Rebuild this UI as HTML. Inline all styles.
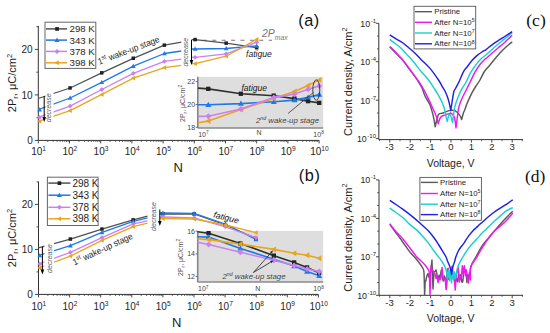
<!DOCTYPE html>
<html><head><meta charset="utf-8"><style>
html,body{margin:0;padding:0;background:#fff;}
body{width:550px;height:333px;overflow:hidden;font-family:"Liberation Sans", sans-serif;}
svg{display:block;}
</style></head><body>
<svg xmlns="http://www.w3.org/2000/svg" width="550" height="333" viewBox="0 0 550 333" font-family='"Liberation Sans", sans-serif'>
<rect width="550" height="333" fill="#fff"/>
<line x1="38.3" y1="26.0" x2="38.3" y2="140.4" stroke="#333333" stroke-width="1" />
<line x1="34.8" y1="140.4" x2="38.3" y2="140.4" stroke="#333333" stroke-width="0.9" />
<text x="32.7" y="144.0" font-size="10" fill="#262626" text-anchor="end" >0</text>
<line x1="34.8" y1="94.9" x2="38.3" y2="94.9" stroke="#333333" stroke-width="0.9" />
<text x="32.7" y="98.5" font-size="10" fill="#262626" text-anchor="end" >10</text>
<line x1="34.8" y1="49.4" x2="38.3" y2="49.4" stroke="#333333" stroke-width="0.9" />
<text x="32.7" y="53.0" font-size="10" fill="#262626" text-anchor="end" >20</text>
<line x1="36.3" y1="117.7" x2="38.3" y2="117.7" stroke="#333333" stroke-width="0.8" />
<line x1="36.3" y1="72.2" x2="38.3" y2="72.2" stroke="#333333" stroke-width="0.8" />
<line x1="36.3" y1="26.7" x2="38.3" y2="26.7" stroke="#333333" stroke-width="0.8" />
<line x1="38.3" y1="140.4" x2="319.1" y2="140.4" stroke="#333333" stroke-width="1" />
<line x1="38.3" y1="140.4" x2="38.3" y2="143.4" stroke="#333333" stroke-width="0.9" />
<text x="38.6" y="154.8" font-size="10" fill="#262626" text-anchor="middle">10<tspan font-size="6.6" dy="-4">1</tspan></text>
<line x1="47.7" y1="140.4" x2="47.7" y2="142.0" stroke="#333333" stroke-width="0.7" />
<line x1="53.2" y1="140.4" x2="53.2" y2="142.0" stroke="#333333" stroke-width="0.7" />
<line x1="57.1" y1="140.4" x2="57.1" y2="142.0" stroke="#333333" stroke-width="0.7" />
<line x1="60.1" y1="140.4" x2="60.1" y2="142.0" stroke="#333333" stroke-width="0.7" />
<line x1="62.6" y1="140.4" x2="62.6" y2="142.0" stroke="#333333" stroke-width="0.7" />
<line x1="64.7" y1="140.4" x2="64.7" y2="142.0" stroke="#333333" stroke-width="0.7" />
<line x1="66.5" y1="140.4" x2="66.5" y2="142.0" stroke="#333333" stroke-width="0.7" />
<line x1="68.1" y1="140.4" x2="68.1" y2="142.0" stroke="#333333" stroke-width="0.7" />
<line x1="69.5" y1="140.4" x2="69.5" y2="143.4" stroke="#333333" stroke-width="0.9" />
<text x="69.8" y="154.8" font-size="10" fill="#262626" text-anchor="middle">10<tspan font-size="6.6" dy="-4">2</tspan></text>
<line x1="78.9" y1="140.4" x2="78.9" y2="142.0" stroke="#333333" stroke-width="0.7" />
<line x1="84.4" y1="140.4" x2="84.4" y2="142.0" stroke="#333333" stroke-width="0.7" />
<line x1="88.3" y1="140.4" x2="88.3" y2="142.0" stroke="#333333" stroke-width="0.7" />
<line x1="91.3" y1="140.4" x2="91.3" y2="142.0" stroke="#333333" stroke-width="0.7" />
<line x1="93.8" y1="140.4" x2="93.8" y2="142.0" stroke="#333333" stroke-width="0.7" />
<line x1="95.9" y1="140.4" x2="95.9" y2="142.0" stroke="#333333" stroke-width="0.7" />
<line x1="97.7" y1="140.4" x2="97.7" y2="142.0" stroke="#333333" stroke-width="0.7" />
<line x1="99.3" y1="140.4" x2="99.3" y2="142.0" stroke="#333333" stroke-width="0.7" />
<line x1="100.7" y1="140.4" x2="100.7" y2="143.4" stroke="#333333" stroke-width="0.9" />
<text x="101.0" y="154.8" font-size="10" fill="#262626" text-anchor="middle">10<tspan font-size="6.6" dy="-4">3</tspan></text>
<line x1="110.1" y1="140.4" x2="110.1" y2="142.0" stroke="#333333" stroke-width="0.7" />
<line x1="115.6" y1="140.4" x2="115.6" y2="142.0" stroke="#333333" stroke-width="0.7" />
<line x1="119.5" y1="140.4" x2="119.5" y2="142.0" stroke="#333333" stroke-width="0.7" />
<line x1="122.5" y1="140.4" x2="122.5" y2="142.0" stroke="#333333" stroke-width="0.7" />
<line x1="125.0" y1="140.4" x2="125.0" y2="142.0" stroke="#333333" stroke-width="0.7" />
<line x1="127.1" y1="140.4" x2="127.1" y2="142.0" stroke="#333333" stroke-width="0.7" />
<line x1="128.9" y1="140.4" x2="128.9" y2="142.0" stroke="#333333" stroke-width="0.7" />
<line x1="130.5" y1="140.4" x2="130.5" y2="142.0" stroke="#333333" stroke-width="0.7" />
<line x1="131.9" y1="140.4" x2="131.9" y2="143.4" stroke="#333333" stroke-width="0.9" />
<text x="132.2" y="154.8" font-size="10" fill="#262626" text-anchor="middle">10<tspan font-size="6.6" dy="-4">4</tspan></text>
<line x1="141.3" y1="140.4" x2="141.3" y2="142.0" stroke="#333333" stroke-width="0.7" />
<line x1="146.8" y1="140.4" x2="146.8" y2="142.0" stroke="#333333" stroke-width="0.7" />
<line x1="150.7" y1="140.4" x2="150.7" y2="142.0" stroke="#333333" stroke-width="0.7" />
<line x1="153.7" y1="140.4" x2="153.7" y2="142.0" stroke="#333333" stroke-width="0.7" />
<line x1="156.2" y1="140.4" x2="156.2" y2="142.0" stroke="#333333" stroke-width="0.7" />
<line x1="158.3" y1="140.4" x2="158.3" y2="142.0" stroke="#333333" stroke-width="0.7" />
<line x1="160.1" y1="140.4" x2="160.1" y2="142.0" stroke="#333333" stroke-width="0.7" />
<line x1="161.7" y1="140.4" x2="161.7" y2="142.0" stroke="#333333" stroke-width="0.7" />
<line x1="163.1" y1="140.4" x2="163.1" y2="143.4" stroke="#333333" stroke-width="0.9" />
<text x="163.4" y="154.8" font-size="10" fill="#262626" text-anchor="middle">10<tspan font-size="6.6" dy="-4">5</tspan></text>
<line x1="172.5" y1="140.4" x2="172.5" y2="142.0" stroke="#333333" stroke-width="0.7" />
<line x1="178.0" y1="140.4" x2="178.0" y2="142.0" stroke="#333333" stroke-width="0.7" />
<line x1="181.9" y1="140.4" x2="181.9" y2="142.0" stroke="#333333" stroke-width="0.7" />
<line x1="184.9" y1="140.4" x2="184.9" y2="142.0" stroke="#333333" stroke-width="0.7" />
<line x1="187.4" y1="140.4" x2="187.4" y2="142.0" stroke="#333333" stroke-width="0.7" />
<line x1="189.5" y1="140.4" x2="189.5" y2="142.0" stroke="#333333" stroke-width="0.7" />
<line x1="191.3" y1="140.4" x2="191.3" y2="142.0" stroke="#333333" stroke-width="0.7" />
<line x1="192.9" y1="140.4" x2="192.9" y2="142.0" stroke="#333333" stroke-width="0.7" />
<line x1="194.3" y1="140.4" x2="194.3" y2="143.4" stroke="#333333" stroke-width="0.9" />
<text x="194.6" y="154.8" font-size="10" fill="#262626" text-anchor="middle">10<tspan font-size="6.6" dy="-4">6</tspan></text>
<line x1="203.7" y1="140.4" x2="203.7" y2="142.0" stroke="#333333" stroke-width="0.7" />
<line x1="209.2" y1="140.4" x2="209.2" y2="142.0" stroke="#333333" stroke-width="0.7" />
<line x1="213.1" y1="140.4" x2="213.1" y2="142.0" stroke="#333333" stroke-width="0.7" />
<line x1="216.1" y1="140.4" x2="216.1" y2="142.0" stroke="#333333" stroke-width="0.7" />
<line x1="218.6" y1="140.4" x2="218.6" y2="142.0" stroke="#333333" stroke-width="0.7" />
<line x1="220.7" y1="140.4" x2="220.7" y2="142.0" stroke="#333333" stroke-width="0.7" />
<line x1="222.5" y1="140.4" x2="222.5" y2="142.0" stroke="#333333" stroke-width="0.7" />
<line x1="224.1" y1="140.4" x2="224.1" y2="142.0" stroke="#333333" stroke-width="0.7" />
<line x1="225.5" y1="140.4" x2="225.5" y2="143.4" stroke="#333333" stroke-width="0.9" />
<text x="225.8" y="154.8" font-size="10" fill="#262626" text-anchor="middle">10<tspan font-size="6.6" dy="-4">7</tspan></text>
<line x1="234.9" y1="140.4" x2="234.9" y2="142.0" stroke="#333333" stroke-width="0.7" />
<line x1="240.4" y1="140.4" x2="240.4" y2="142.0" stroke="#333333" stroke-width="0.7" />
<line x1="244.3" y1="140.4" x2="244.3" y2="142.0" stroke="#333333" stroke-width="0.7" />
<line x1="247.3" y1="140.4" x2="247.3" y2="142.0" stroke="#333333" stroke-width="0.7" />
<line x1="249.8" y1="140.4" x2="249.8" y2="142.0" stroke="#333333" stroke-width="0.7" />
<line x1="251.9" y1="140.4" x2="251.9" y2="142.0" stroke="#333333" stroke-width="0.7" />
<line x1="253.7" y1="140.4" x2="253.7" y2="142.0" stroke="#333333" stroke-width="0.7" />
<line x1="255.3" y1="140.4" x2="255.3" y2="142.0" stroke="#333333" stroke-width="0.7" />
<line x1="256.7" y1="140.4" x2="256.7" y2="143.4" stroke="#333333" stroke-width="0.9" />
<text x="257.0" y="154.8" font-size="10" fill="#262626" text-anchor="middle">10<tspan font-size="6.6" dy="-4">8</tspan></text>
<line x1="266.1" y1="140.4" x2="266.1" y2="142.0" stroke="#333333" stroke-width="0.7" />
<line x1="271.6" y1="140.4" x2="271.6" y2="142.0" stroke="#333333" stroke-width="0.7" />
<line x1="275.5" y1="140.4" x2="275.5" y2="142.0" stroke="#333333" stroke-width="0.7" />
<line x1="278.5" y1="140.4" x2="278.5" y2="142.0" stroke="#333333" stroke-width="0.7" />
<line x1="281.0" y1="140.4" x2="281.0" y2="142.0" stroke="#333333" stroke-width="0.7" />
<line x1="283.1" y1="140.4" x2="283.1" y2="142.0" stroke="#333333" stroke-width="0.7" />
<line x1="284.9" y1="140.4" x2="284.9" y2="142.0" stroke="#333333" stroke-width="0.7" />
<line x1="286.5" y1="140.4" x2="286.5" y2="142.0" stroke="#333333" stroke-width="0.7" />
<line x1="287.9" y1="140.4" x2="287.9" y2="143.4" stroke="#333333" stroke-width="0.9" />
<text x="288.2" y="154.8" font-size="10" fill="#262626" text-anchor="middle">10<tspan font-size="6.6" dy="-4">9</tspan></text>
<line x1="297.3" y1="140.4" x2="297.3" y2="142.0" stroke="#333333" stroke-width="0.7" />
<line x1="302.8" y1="140.4" x2="302.8" y2="142.0" stroke="#333333" stroke-width="0.7" />
<line x1="306.7" y1="140.4" x2="306.7" y2="142.0" stroke="#333333" stroke-width="0.7" />
<line x1="309.7" y1="140.4" x2="309.7" y2="142.0" stroke="#333333" stroke-width="0.7" />
<line x1="312.2" y1="140.4" x2="312.2" y2="142.0" stroke="#333333" stroke-width="0.7" />
<line x1="314.3" y1="140.4" x2="314.3" y2="142.0" stroke="#333333" stroke-width="0.7" />
<line x1="316.1" y1="140.4" x2="316.1" y2="142.0" stroke="#333333" stroke-width="0.7" />
<line x1="317.7" y1="140.4" x2="317.7" y2="142.0" stroke="#333333" stroke-width="0.7" />
<line x1="319.1" y1="140.4" x2="319.1" y2="143.4" stroke="#333333" stroke-width="0.9" />
<text x="319.4" y="154.8" font-size="10" fill="#262626" text-anchor="middle">10<tspan font-size="6.6" dy="-4">10</tspan></text>
<text x="178.2" y="172.0" font-size="13" fill="#1c1c1c" text-anchor="middle" >N</text>
<text transform="translate(15.7,83) rotate(-90)" font-size="11" fill="#1c1c1c" text-anchor="middle">2P<tspan font-size="7.5" dy="2.5">r</tspan><tspan dy="-2.5">, μC/cm</tspan><tspan font-size="7.5" dy="-4">2</tspan></text>
<text x="309.0" y="25.5" font-size="16.3" fill="#111" text-anchor="middle" letter-spacing="0.6">(a)</text>
<line x1="193.5" y1="40.2" x2="272.0" y2="40.2" stroke="#777" stroke-width="1.1" stroke-dasharray="4,5.4"/>
<polyline points="38.3,98.5 70.1,88.0 101.8,72.9 133.3,58.3 164.4,45.2 181.5,42.1" fill="none" stroke="#525252" stroke-width="1.3" stroke-linejoin="round" />
<polyline points="191.5,39.6 195.1,39.6 226.2,43.2 256.7,47.8" fill="none" stroke="#525252" stroke-width="1.3" stroke-linejoin="round" />
<polyline points="38.3,109.7 70.1,98.0 101.8,82.3 133.3,66.1 164.4,53.5 181.5,51.0" fill="none" stroke="#1f78e8" stroke-width="1.3" stroke-linejoin="round" />
<polyline points="191.5,49.0 195.1,49.0 226.2,48.5 256.7,45.9" fill="none" stroke="#1f78e8" stroke-width="1.3" stroke-linejoin="round" />
<polyline points="38.3,117.3 70.1,106.1 101.8,89.5 133.3,73.3 164.4,61.3 181.5,59.1" fill="none" stroke="#cc80f0" stroke-width="1.3" stroke-linejoin="round" />
<polyline points="191.5,57.3 195.1,57.3 226.2,53.8 256.7,42.2" fill="none" stroke="#cc80f0" stroke-width="1.3" stroke-linejoin="round" />
<polyline points="38.3,121.4 70.1,110.6 101.8,94.4 133.3,78.1 164.4,67.6 181.5,65.4" fill="none" stroke="#e9a51c" stroke-width="1.3" stroke-linejoin="round" />
<polyline points="191.5,63.7 195.1,63.7 226.2,56.2 256.7,39.3" fill="none" stroke="#e9a51c" stroke-width="1.3" stroke-linejoin="round" />
<rect x="68.3" y="86.2" width="3.5" height="3.5" fill="#222"/>
<rect x="100.0" y="71.1" width="3.5" height="3.5" fill="#222"/>
<rect x="131.5" y="56.5" width="3.5" height="3.5" fill="#222"/>
<rect x="162.6" y="43.4" width="3.5" height="3.5" fill="#222"/>
<rect x="193.3" y="37.8" width="3.5" height="3.5" fill="#222"/>
<rect x="224.4" y="41.4" width="3.5" height="3.5" fill="#222"/>
<rect x="254.9" y="46.0" width="3.5" height="3.5" fill="#222"/>
<polygon points="39.6,107.3 37.2,111.5 42.0,111.5" fill="#1f78e8"/>
<polygon points="70.1,95.6 67.7,99.8 72.5,99.8" fill="#1f78e8"/>
<polygon points="101.8,79.9 99.4,84.1 104.2,84.1" fill="#1f78e8"/>
<polygon points="133.3,63.7 130.9,67.9 135.7,67.9" fill="#1f78e8"/>
<polygon points="164.4,51.1 162.0,55.3 166.8,55.3" fill="#1f78e8"/>
<polygon points="195.1,46.6 192.7,50.8 197.5,50.8" fill="#1f78e8"/>
<polygon points="226.2,46.1 223.8,50.3 228.6,50.3" fill="#1f78e8"/>
<polygon points="256.7,43.5 254.3,47.7 259.1,47.7" fill="#1f78e8"/>
<polygon points="39.6,114.9 42.0,117.3 39.6,119.7 37.2,117.3" fill="#cc80f0"/>
<polygon points="70.1,103.7 72.5,106.1 70.1,108.5 67.7,106.1" fill="#cc80f0"/>
<polygon points="101.8,87.1 104.2,89.5 101.8,91.9 99.4,89.5" fill="#cc80f0"/>
<polygon points="133.3,70.9 135.7,73.3 133.3,75.7 130.9,73.3" fill="#cc80f0"/>
<polygon points="164.4,58.9 166.8,61.3 164.4,63.7 162.0,61.3" fill="#cc80f0"/>
<polygon points="195.1,54.9 197.5,57.3 195.1,59.7 192.7,57.3" fill="#cc80f0"/>
<polygon points="226.2,51.4 228.6,53.8 226.2,56.2 223.8,53.8" fill="#cc80f0"/>
<polygon points="256.7,39.8 259.1,42.2 256.7,44.6 254.3,42.2" fill="#cc80f0"/>
<polygon points="37.2,121.4 41.4,119.0 41.4,123.8" fill="#e9a51c"/>
<polygon points="67.7,110.6 71.9,108.2 71.9,113.0" fill="#e9a51c"/>
<polygon points="99.4,94.4 103.6,92.0 103.6,96.8" fill="#e9a51c"/>
<polygon points="130.9,78.1 135.1,75.7 135.1,80.5" fill="#e9a51c"/>
<polygon points="162.0,67.6 166.2,65.2 166.2,70.0" fill="#e9a51c"/>
<polygon points="192.7,63.7 196.9,61.3 196.9,66.1" fill="#e9a51c"/>
<polygon points="223.8,56.2 228.0,53.8 228.0,58.6" fill="#e9a51c"/>
<polygon points="254.3,39.3 258.5,36.9 258.5,41.7" fill="#e9a51c"/>
<rect x="45.5" y="92" width="8" height="31" fill="#fff"/>
<rect x="181.5" y="36" width="8" height="31" fill="#fff"/>
<text transform="translate(50.8,107.8) rotate(-90)" font-size="7" font-style="italic" fill="#506070" text-anchor="middle">decrease</text>
<text transform="translate(187.9,52.2) rotate(-90)" font-size="7" font-style="italic" fill="#506070" text-anchor="middle">decrease</text>
<line x1="44.2" y1="96.2" x2="44.2" y2="118.0" stroke="#000" stroke-width="1.0" />
<polygon points="42.4,117.0 46.0,117.0 44.2,122.0" fill="#000"/>
<line x1="191.5" y1="40.0" x2="191.5" y2="61.0" stroke="#000" stroke-width="1.0" />
<polygon points="189.7,60.0 193.3,60.0 191.5,65.0" fill="#000"/>
<text transform="translate(99.3,64.8) rotate(-20.8) scale(0.92,1)" font-size="9" fill="#262626">1<tspan font-size="6.2" dy="-3.6">st</tspan><tspan dy="3.6"> wake-up stage</tspan></text>
<text x="262" y="37" font-size="10.5" font-style="italic" fill="#777">2P<tspan font-size="6.8" dy="2.5">max</tspan></text>
<text x="246" y="56.5" font-size="8.6" font-style="italic" fill="#1a1a1a">fatigue</text>
<rect x="45.0" y="22.2" width="50.8" height="46.2" fill="#fff" stroke="#666" stroke-width="1"/>
<line x1="46.0" y1="28.9" x2="67.0" y2="28.9" stroke="#525252" stroke-width="1.5" />
<rect x="55.2" y="27.1" width="3.7" height="3.7" fill="#222"/>
<text x="69.5" y="32.4" font-size="9.7" fill="#262626" text-anchor="start" >298 K</text>
<line x1="46.0" y1="40.1" x2="67.0" y2="40.1" stroke="#1f78e8" stroke-width="1.5" />
<polygon points="57.0,37.6 54.5,41.9 59.5,41.9" fill="#1f78e8"/>
<text x="69.5" y="43.6" font-size="9.7" fill="#262626" text-anchor="start" >343 K</text>
<line x1="46.0" y1="51.4" x2="67.0" y2="51.4" stroke="#cc80f0" stroke-width="1.5" />
<polygon points="57.0,48.9 59.5,51.4 57.0,53.9 54.5,51.4" fill="#cc80f0"/>
<text x="69.5" y="54.9" font-size="9.7" fill="#262626" text-anchor="start" >378 K</text>
<line x1="46.0" y1="62.8" x2="67.0" y2="62.8" stroke="#e9a51c" stroke-width="1.5" />
<polygon points="54.5,62.8 58.8,60.3 58.8,65.3" fill="#e9a51c"/>
<text x="69.5" y="66.3" font-size="9.7" fill="#262626" text-anchor="start" >398 K</text>
<rect x="197.6" y="76.8" width="125.6" height="51.2" fill="#dedede"/>
<line x1="197.8" y1="76.8" x2="197.8" y2="128.0" stroke="#858585" stroke-width="1.6" />
<line x1="197.6" y1="128.0" x2="323.2" y2="128.0" stroke="#8a8a8a" stroke-width="1.4" />
<line x1="195.6" y1="81.6" x2="197.6" y2="81.6" stroke="#555" stroke-width="0.8" />
<text x="195.1" y="84.1" font-size="7" fill="#444" text-anchor="end" >22</text>
<line x1="195.6" y1="104.5" x2="197.6" y2="104.5" stroke="#555" stroke-width="0.8" />
<text x="195.1" y="107.0" font-size="7" fill="#444" text-anchor="end" >20</text>
<line x1="195.6" y1="127.3" x2="197.6" y2="127.3" stroke="#555" stroke-width="0.8" />
<text x="195.1" y="129.8" font-size="7" fill="#444" text-anchor="end" >18</text>
<polyline points="198.0,88.1 208.3,88.9 240.9,93.8 273.8,95.7 294.5,98.6 308.1,101.2 319.3,102.9" fill="none" stroke="#303030" stroke-width="1.6" stroke-linejoin="round" />
<polyline points="198.0,104.7 208.3,104.7 240.9,103.6 273.8,101.7 294.5,100.1 308.1,97.4 319.3,94.6" fill="none" stroke="#1f78e8" stroke-width="1.6" stroke-linejoin="round" />
<polyline points="198.0,122.7 208.3,121.1 240.9,109.6 273.8,98.4 294.5,91.4 308.1,85.4 319.3,79.9" fill="none" stroke="#e9a51c" stroke-width="1.6" stroke-linejoin="round" />
<polyline points="198.0,116.4 208.3,116.2 240.9,109.0 273.8,97.4 294.5,94.1 308.1,89.2 319.3,85.9" fill="none" stroke="#cc80f0" stroke-width="1.6" stroke-linejoin="round" />
<rect x="206.1" y="86.7" width="4.3" height="4.3" fill="#222"/>
<rect x="238.7" y="91.6" width="4.3" height="4.3" fill="#222"/>
<rect x="271.6" y="93.5" width="4.3" height="4.3" fill="#222"/>
<rect x="292.3" y="96.4" width="4.3" height="4.3" fill="#222"/>
<rect x="305.9" y="99.0" width="4.3" height="4.3" fill="#222"/>
<rect x="317.1" y="100.7" width="4.3" height="4.3" fill="#222"/>
<polygon points="208.3,101.7 205.3,106.9 211.3,106.9" fill="#1f78e8"/>
<polygon points="240.9,100.6 237.9,105.8 243.9,105.8" fill="#1f78e8"/>
<polygon points="273.8,98.7 270.8,103.9 276.8,103.9" fill="#1f78e8"/>
<polygon points="294.5,97.1 291.5,102.3 297.5,102.3" fill="#1f78e8"/>
<polygon points="308.1,94.4 305.1,99.6 311.1,99.6" fill="#1f78e8"/>
<polygon points="319.3,91.6 316.3,96.8 322.3,96.8" fill="#1f78e8"/>
<polygon points="205.3,121.1 210.5,118.1 210.5,124.1" fill="#e9a51c"/>
<polygon points="237.9,109.6 243.1,106.6 243.1,112.6" fill="#e9a51c"/>
<polygon points="270.8,98.4 276.0,95.4 276.0,101.4" fill="#e9a51c"/>
<polygon points="291.5,91.4 296.7,88.4 296.7,94.4" fill="#e9a51c"/>
<polygon points="305.1,85.4 310.3,82.4 310.3,88.4" fill="#e9a51c"/>
<polygon points="316.3,79.9 321.5,76.9 321.5,82.9" fill="#e9a51c"/>
<polygon points="208.3,113.2 211.3,116.2 208.3,119.2 205.3,116.2" fill="#cc80f0"/>
<polygon points="240.9,106.0 243.9,109.0 240.9,112.0 237.9,109.0" fill="#cc80f0"/>
<polygon points="273.8,94.4 276.8,97.4 273.8,100.4 270.8,97.4" fill="#cc80f0"/>
<polygon points="294.5,91.1 297.5,94.1 294.5,97.1 291.5,94.1" fill="#cc80f0"/>
<polygon points="308.1,86.2 311.1,89.2 308.1,92.2 305.1,89.2" fill="#cc80f0"/>
<polygon points="319.3,82.9 322.3,85.9 319.3,88.9 316.3,85.9" fill="#cc80f0"/>
<text transform="translate(185.2,103.4) rotate(-90)" font-size="7" fill="#5a4a4a" text-anchor="middle">2P<tspan font-size="4.8" dy="1.8">r</tspan><tspan dy="-1.8">, μC/cm</tspan><tspan font-size="5" dy="-3">2</tspan></text>
<text x="203.4" y="136.6" font-size="7" fill="#444" text-anchor="middle">10<tspan font-size="4.8" dy="-2.5">7</tspan></text>
<text x="259.0" y="135.3" font-size="7" fill="#444" text-anchor="middle" >N</text>
<text x="318.6" y="136.6" font-size="7" fill="#444" text-anchor="middle">10<tspan font-size="4.8" dy="-2.5">8</tspan></text>
<text x="241.5" y="91" font-size="8.5" font-style="italic" fill="#1a1a1a">fatigue</text>
<ellipse cx="316.3" cy="90" rx="3.5" ry="10.2" fill="none" stroke="#333" stroke-width="0.9"/>
<line x1="288.0" y1="113.5" x2="313.3" y2="92.5" stroke="#333" stroke-width="0.8" />
<text x="256" y="123" font-size="7.8" font-style="italic" fill="#444">2<tspan font-size="5.2" dy="-3">nd</tspan><tspan dy="3"> w</tspan><tspan>ake-up stage</tspan></text>
<line x1="38.5" y1="181.5" x2="38.5" y2="294.4" stroke="#333333" stroke-width="1" />
<line x1="35.0" y1="294.4" x2="38.5" y2="294.4" stroke="#333333" stroke-width="0.9" />
<text x="32.9" y="298.0" font-size="10" fill="#262626" text-anchor="end" >0</text>
<line x1="35.0" y1="249.4" x2="38.5" y2="249.4" stroke="#333333" stroke-width="0.9" />
<text x="32.9" y="253.0" font-size="10" fill="#262626" text-anchor="end" >10</text>
<line x1="35.0" y1="204.4" x2="38.5" y2="204.4" stroke="#333333" stroke-width="0.9" />
<text x="32.9" y="208.0" font-size="10" fill="#262626" text-anchor="end" >20</text>
<line x1="36.5" y1="271.9" x2="38.5" y2="271.9" stroke="#333333" stroke-width="0.8" />
<line x1="36.5" y1="226.9" x2="38.5" y2="226.9" stroke="#333333" stroke-width="0.8" />
<line x1="36.5" y1="181.9" x2="38.5" y2="181.9" stroke="#333333" stroke-width="0.8" />
<line x1="38.5" y1="294.4" x2="318.4" y2="294.4" stroke="#333333" stroke-width="1" />
<line x1="38.5" y1="294.4" x2="38.5" y2="297.4" stroke="#333333" stroke-width="0.9" />
<text x="38.8" y="309.7" font-size="10" fill="#262626" text-anchor="middle">10<tspan font-size="6.6" dy="-4">1</tspan></text>
<line x1="47.9" y1="294.4" x2="47.9" y2="296.0" stroke="#333333" stroke-width="0.7" />
<line x1="53.3" y1="294.4" x2="53.3" y2="296.0" stroke="#333333" stroke-width="0.7" />
<line x1="57.2" y1="294.4" x2="57.2" y2="296.0" stroke="#333333" stroke-width="0.7" />
<line x1="60.2" y1="294.4" x2="60.2" y2="296.0" stroke="#333333" stroke-width="0.7" />
<line x1="62.7" y1="294.4" x2="62.7" y2="296.0" stroke="#333333" stroke-width="0.7" />
<line x1="64.8" y1="294.4" x2="64.8" y2="296.0" stroke="#333333" stroke-width="0.7" />
<line x1="66.6" y1="294.4" x2="66.6" y2="296.0" stroke="#333333" stroke-width="0.7" />
<line x1="68.2" y1="294.4" x2="68.2" y2="296.0" stroke="#333333" stroke-width="0.7" />
<line x1="69.6" y1="294.4" x2="69.6" y2="297.4" stroke="#333333" stroke-width="0.9" />
<text x="69.9" y="309.7" font-size="10" fill="#262626" text-anchor="middle">10<tspan font-size="6.6" dy="-4">2</tspan></text>
<line x1="79.0" y1="294.4" x2="79.0" y2="296.0" stroke="#333333" stroke-width="0.7" />
<line x1="84.4" y1="294.4" x2="84.4" y2="296.0" stroke="#333333" stroke-width="0.7" />
<line x1="88.3" y1="294.4" x2="88.3" y2="296.0" stroke="#333333" stroke-width="0.7" />
<line x1="91.3" y1="294.4" x2="91.3" y2="296.0" stroke="#333333" stroke-width="0.7" />
<line x1="93.8" y1="294.4" x2="93.8" y2="296.0" stroke="#333333" stroke-width="0.7" />
<line x1="95.9" y1="294.4" x2="95.9" y2="296.0" stroke="#333333" stroke-width="0.7" />
<line x1="97.7" y1="294.4" x2="97.7" y2="296.0" stroke="#333333" stroke-width="0.7" />
<line x1="99.3" y1="294.4" x2="99.3" y2="296.0" stroke="#333333" stroke-width="0.7" />
<line x1="100.7" y1="294.4" x2="100.7" y2="297.4" stroke="#333333" stroke-width="0.9" />
<text x="101.0" y="309.7" font-size="10" fill="#262626" text-anchor="middle">10<tspan font-size="6.6" dy="-4">3</tspan></text>
<line x1="110.1" y1="294.4" x2="110.1" y2="296.0" stroke="#333333" stroke-width="0.7" />
<line x1="115.5" y1="294.4" x2="115.5" y2="296.0" stroke="#333333" stroke-width="0.7" />
<line x1="119.4" y1="294.4" x2="119.4" y2="296.0" stroke="#333333" stroke-width="0.7" />
<line x1="122.4" y1="294.4" x2="122.4" y2="296.0" stroke="#333333" stroke-width="0.7" />
<line x1="124.9" y1="294.4" x2="124.9" y2="296.0" stroke="#333333" stroke-width="0.7" />
<line x1="127.0" y1="294.4" x2="127.0" y2="296.0" stroke="#333333" stroke-width="0.7" />
<line x1="128.8" y1="294.4" x2="128.8" y2="296.0" stroke="#333333" stroke-width="0.7" />
<line x1="130.4" y1="294.4" x2="130.4" y2="296.0" stroke="#333333" stroke-width="0.7" />
<line x1="131.8" y1="294.4" x2="131.8" y2="297.4" stroke="#333333" stroke-width="0.9" />
<text x="132.1" y="309.7" font-size="10" fill="#262626" text-anchor="middle">10<tspan font-size="6.6" dy="-4">4</tspan></text>
<line x1="141.2" y1="294.4" x2="141.2" y2="296.0" stroke="#333333" stroke-width="0.7" />
<line x1="146.6" y1="294.4" x2="146.6" y2="296.0" stroke="#333333" stroke-width="0.7" />
<line x1="150.5" y1="294.4" x2="150.5" y2="296.0" stroke="#333333" stroke-width="0.7" />
<line x1="153.5" y1="294.4" x2="153.5" y2="296.0" stroke="#333333" stroke-width="0.7" />
<line x1="156.0" y1="294.4" x2="156.0" y2="296.0" stroke="#333333" stroke-width="0.7" />
<line x1="158.1" y1="294.4" x2="158.1" y2="296.0" stroke="#333333" stroke-width="0.7" />
<line x1="159.9" y1="294.4" x2="159.9" y2="296.0" stroke="#333333" stroke-width="0.7" />
<line x1="161.5" y1="294.4" x2="161.5" y2="296.0" stroke="#333333" stroke-width="0.7" />
<line x1="162.9" y1="294.4" x2="162.9" y2="297.4" stroke="#333333" stroke-width="0.9" />
<text x="163.2" y="309.7" font-size="10" fill="#262626" text-anchor="middle">10<tspan font-size="6.6" dy="-4">5</tspan></text>
<line x1="172.3" y1="294.4" x2="172.3" y2="296.0" stroke="#333333" stroke-width="0.7" />
<line x1="177.7" y1="294.4" x2="177.7" y2="296.0" stroke="#333333" stroke-width="0.7" />
<line x1="181.6" y1="294.4" x2="181.6" y2="296.0" stroke="#333333" stroke-width="0.7" />
<line x1="184.6" y1="294.4" x2="184.6" y2="296.0" stroke="#333333" stroke-width="0.7" />
<line x1="187.1" y1="294.4" x2="187.1" y2="296.0" stroke="#333333" stroke-width="0.7" />
<line x1="189.2" y1="294.4" x2="189.2" y2="296.0" stroke="#333333" stroke-width="0.7" />
<line x1="191.0" y1="294.4" x2="191.0" y2="296.0" stroke="#333333" stroke-width="0.7" />
<line x1="192.6" y1="294.4" x2="192.6" y2="296.0" stroke="#333333" stroke-width="0.7" />
<line x1="194.0" y1="294.4" x2="194.0" y2="297.4" stroke="#333333" stroke-width="0.9" />
<text x="194.3" y="309.7" font-size="10" fill="#262626" text-anchor="middle">10<tspan font-size="6.6" dy="-4">6</tspan></text>
<line x1="203.4" y1="294.4" x2="203.4" y2="296.0" stroke="#333333" stroke-width="0.7" />
<line x1="208.8" y1="294.4" x2="208.8" y2="296.0" stroke="#333333" stroke-width="0.7" />
<line x1="212.7" y1="294.4" x2="212.7" y2="296.0" stroke="#333333" stroke-width="0.7" />
<line x1="215.7" y1="294.4" x2="215.7" y2="296.0" stroke="#333333" stroke-width="0.7" />
<line x1="218.2" y1="294.4" x2="218.2" y2="296.0" stroke="#333333" stroke-width="0.7" />
<line x1="220.3" y1="294.4" x2="220.3" y2="296.0" stroke="#333333" stroke-width="0.7" />
<line x1="222.1" y1="294.4" x2="222.1" y2="296.0" stroke="#333333" stroke-width="0.7" />
<line x1="223.7" y1="294.4" x2="223.7" y2="296.0" stroke="#333333" stroke-width="0.7" />
<line x1="225.1" y1="294.4" x2="225.1" y2="297.4" stroke="#333333" stroke-width="0.9" />
<text x="225.4" y="309.7" font-size="10" fill="#262626" text-anchor="middle">10<tspan font-size="6.6" dy="-4">7</tspan></text>
<line x1="234.5" y1="294.4" x2="234.5" y2="296.0" stroke="#333333" stroke-width="0.7" />
<line x1="239.9" y1="294.4" x2="239.9" y2="296.0" stroke="#333333" stroke-width="0.7" />
<line x1="243.8" y1="294.4" x2="243.8" y2="296.0" stroke="#333333" stroke-width="0.7" />
<line x1="246.8" y1="294.4" x2="246.8" y2="296.0" stroke="#333333" stroke-width="0.7" />
<line x1="249.3" y1="294.4" x2="249.3" y2="296.0" stroke="#333333" stroke-width="0.7" />
<line x1="251.4" y1="294.4" x2="251.4" y2="296.0" stroke="#333333" stroke-width="0.7" />
<line x1="253.2" y1="294.4" x2="253.2" y2="296.0" stroke="#333333" stroke-width="0.7" />
<line x1="254.8" y1="294.4" x2="254.8" y2="296.0" stroke="#333333" stroke-width="0.7" />
<line x1="256.2" y1="294.4" x2="256.2" y2="297.4" stroke="#333333" stroke-width="0.9" />
<text x="256.5" y="309.7" font-size="10" fill="#262626" text-anchor="middle">10<tspan font-size="6.6" dy="-4">8</tspan></text>
<line x1="265.6" y1="294.4" x2="265.6" y2="296.0" stroke="#333333" stroke-width="0.7" />
<line x1="271.0" y1="294.4" x2="271.0" y2="296.0" stroke="#333333" stroke-width="0.7" />
<line x1="274.9" y1="294.4" x2="274.9" y2="296.0" stroke="#333333" stroke-width="0.7" />
<line x1="277.9" y1="294.4" x2="277.9" y2="296.0" stroke="#333333" stroke-width="0.7" />
<line x1="280.4" y1="294.4" x2="280.4" y2="296.0" stroke="#333333" stroke-width="0.7" />
<line x1="282.5" y1="294.4" x2="282.5" y2="296.0" stroke="#333333" stroke-width="0.7" />
<line x1="284.3" y1="294.4" x2="284.3" y2="296.0" stroke="#333333" stroke-width="0.7" />
<line x1="285.9" y1="294.4" x2="285.9" y2="296.0" stroke="#333333" stroke-width="0.7" />
<line x1="287.3" y1="294.4" x2="287.3" y2="297.4" stroke="#333333" stroke-width="0.9" />
<text x="287.6" y="309.7" font-size="10" fill="#262626" text-anchor="middle">10<tspan font-size="6.6" dy="-4">9</tspan></text>
<line x1="296.7" y1="294.4" x2="296.7" y2="296.0" stroke="#333333" stroke-width="0.7" />
<line x1="302.1" y1="294.4" x2="302.1" y2="296.0" stroke="#333333" stroke-width="0.7" />
<line x1="306.0" y1="294.4" x2="306.0" y2="296.0" stroke="#333333" stroke-width="0.7" />
<line x1="309.0" y1="294.4" x2="309.0" y2="296.0" stroke="#333333" stroke-width="0.7" />
<line x1="311.5" y1="294.4" x2="311.5" y2="296.0" stroke="#333333" stroke-width="0.7" />
<line x1="313.6" y1="294.4" x2="313.6" y2="296.0" stroke="#333333" stroke-width="0.7" />
<line x1="315.4" y1="294.4" x2="315.4" y2="296.0" stroke="#333333" stroke-width="0.7" />
<line x1="317.0" y1="294.4" x2="317.0" y2="296.0" stroke="#333333" stroke-width="0.7" />
<line x1="318.4" y1="294.4" x2="318.4" y2="297.4" stroke="#333333" stroke-width="0.9" />
<text x="318.7" y="309.7" font-size="10" fill="#262626" text-anchor="middle">10<tspan font-size="6.6" dy="-4">10</tspan></text>
<text x="176.8" y="326.6" font-size="13" fill="#1c1c1c" text-anchor="middle" >N</text>
<text transform="translate(15.7,238) rotate(-90)" font-size="11" fill="#1c1c1c" text-anchor="middle">2P<tspan font-size="7.5" dy="2.5">r</tspan><tspan dy="-2.5">, μC/cm</tspan><tspan font-size="7.5" dy="-4">2</tspan></text>
<text x="309.6" y="180.6" font-size="16.3" fill="#111" text-anchor="middle" letter-spacing="0.6">(b)</text>
<rect x="197.5" y="230.9" width="125.7" height="51.1" fill="#dedede"/>
<line x1="197.7" y1="230.9" x2="197.7" y2="282.0" stroke="#858585" stroke-width="1.6" />
<line x1="197.5" y1="282.0" x2="323.2" y2="282.0" stroke="#8a8a8a" stroke-width="1.4" />
<line x1="195.5" y1="231.2" x2="197.5" y2="231.2" stroke="#555" stroke-width="0.8" />
<text x="195.0" y="233.7" font-size="7" fill="#444" text-anchor="end" >16</text>
<line x1="195.5" y1="253.9" x2="197.5" y2="253.9" stroke="#555" stroke-width="0.8" />
<text x="195.0" y="256.4" font-size="7" fill="#444" text-anchor="end" >14</text>
<line x1="195.5" y1="276.5" x2="197.5" y2="276.5" stroke="#555" stroke-width="0.8" />
<text x="195.0" y="279.0" font-size="7" fill="#444" text-anchor="end" >12</text>
<polyline points="197.5,231.8 208.6,233.2 240.4,243.5 273.9,255.7 294.2,262.5 307.1,267.5 319.2,272.9" fill="none" stroke="#303030" stroke-width="1.6" stroke-linejoin="round" />
<polyline points="197.5,236.7 208.6,237.1 240.4,248.4 273.9,259.2 294.2,266.0 307.1,271.5 319.2,275.8" fill="none" stroke="#1f78e8" stroke-width="1.6" stroke-linejoin="round" />
<polyline points="197.5,238.7 208.6,239.6 240.4,244.1 273.9,249.4 294.2,253.3 307.1,255.3 319.2,258.2" fill="none" stroke="#e9a51c" stroke-width="1.6" stroke-linejoin="round" />
<polyline points="197.5,242.2 208.6,244.5 240.4,252.3 273.9,260.2 294.2,265.6 307.1,269.0 319.2,271.5" fill="none" stroke="#cc80f0" stroke-width="1.6" stroke-linejoin="round" />
<rect x="206.4" y="231.0" width="4.3" height="4.3" fill="#222"/>
<rect x="238.2" y="241.3" width="4.3" height="4.3" fill="#222"/>
<rect x="271.7" y="253.5" width="4.3" height="4.3" fill="#222"/>
<rect x="292.0" y="260.3" width="4.3" height="4.3" fill="#222"/>
<rect x="304.9" y="265.3" width="4.3" height="4.3" fill="#222"/>
<rect x="317.0" y="270.7" width="4.3" height="4.3" fill="#222"/>
<polygon points="208.6,234.1 205.6,239.3 211.6,239.3" fill="#1f78e8"/>
<polygon points="240.4,245.4 237.4,250.6 243.4,250.6" fill="#1f78e8"/>
<polygon points="273.9,256.2 270.9,261.4 276.9,261.4" fill="#1f78e8"/>
<polygon points="294.2,263.0 291.2,268.2 297.2,268.2" fill="#1f78e8"/>
<polygon points="307.1,268.5 304.1,273.7 310.1,273.7" fill="#1f78e8"/>
<polygon points="319.2,272.8 316.2,278.0 322.2,278.0" fill="#1f78e8"/>
<polygon points="205.6,239.6 210.8,236.6 210.8,242.6" fill="#e9a51c"/>
<polygon points="237.4,244.1 242.6,241.1 242.6,247.1" fill="#e9a51c"/>
<polygon points="270.9,249.4 276.1,246.4 276.1,252.4" fill="#e9a51c"/>
<polygon points="291.2,253.3 296.4,250.3 296.4,256.3" fill="#e9a51c"/>
<polygon points="304.1,255.3 309.3,252.3 309.3,258.3" fill="#e9a51c"/>
<polygon points="316.2,258.2 321.4,255.2 321.4,261.2" fill="#e9a51c"/>
<polygon points="208.6,241.5 211.6,244.5 208.6,247.5 205.6,244.5" fill="#cc80f0"/>
<polygon points="240.4,249.3 243.4,252.3 240.4,255.3 237.4,252.3" fill="#cc80f0"/>
<polygon points="273.9,257.2 276.9,260.2 273.9,263.2 270.9,260.2" fill="#cc80f0"/>
<polygon points="294.2,262.6 297.2,265.6 294.2,268.6 291.2,265.6" fill="#cc80f0"/>
<polygon points="307.1,266.0 310.1,269.0 307.1,272.0 304.1,269.0" fill="#cc80f0"/>
<polygon points="319.2,268.5 322.2,271.5 319.2,274.5 316.2,271.5" fill="#cc80f0"/>
<text transform="translate(183.2,257.4) rotate(-90)" font-size="7" fill="#5a4a4a" text-anchor="middle">2P<tspan font-size="4.8" dy="1.8">r</tspan><tspan dy="-1.8">, μC/cm</tspan><tspan font-size="5" dy="-3">2</tspan></text>
<text x="203.3" y="291.4" font-size="7" fill="#444" text-anchor="middle">10<tspan font-size="4.8" dy="-2.5">7</tspan></text>
<text x="257.7" y="291.4" font-size="7" fill="#444" text-anchor="middle" >N</text>
<text x="318.6" y="291.4" font-size="7" fill="#444" text-anchor="middle">10<tspan font-size="4.8" dy="-2.5">8</tspan></text>
<text x="222.5" y="278.6" font-size="7.8" font-style="italic" fill="#444">2<tspan font-size="5.2" dy="-3">nd</tspan><tspan dy="3"> w</tspan><tspan>ake-up stage</tspan></text>
<line x1="253.4" y1="272.5" x2="270.9" y2="252.9" stroke="#222" stroke-width="0.8" />
<polygon points="273.0,250.5 271.8,253.8 269.9,252.0" fill="#222"/>
<line x1="253.4" y1="272.5" x2="270.8" y2="262.1" stroke="#222" stroke-width="0.8" />
<polygon points="273.5,260.4 271.4,263.2 270.1,260.9" fill="#222"/>
<polyline points="38.5,247.8 70.4,239.1 102.0,229.1 133.2,219.9 147.5,216.2" fill="none" stroke="#525252" stroke-width="1.3" stroke-linejoin="round" />
<polyline points="160.0,214.0 162.9,214.0 194.2,214.0 225.4,225.0 255.9,238.5" fill="none" stroke="#525252" stroke-width="1.3" stroke-linejoin="round" />
<polyline points="38.5,255.5 70.4,245.6 102.0,232.4 133.2,221.4 147.5,217.8" fill="none" stroke="#1f78e8" stroke-width="1.3" stroke-linejoin="round" />
<polyline points="160.0,213.0 162.9,213.0 194.2,213.4 225.4,224.0 255.9,239.4" fill="none" stroke="#1f78e8" stroke-width="1.3" stroke-linejoin="round" />
<polyline points="38.5,264.0 70.4,252.3 102.0,237.6 133.2,223.9 147.5,220.8" fill="none" stroke="#cc80f0" stroke-width="1.3" stroke-linejoin="round" />
<polyline points="160.0,217.0 162.9,217.0 194.2,217.8 225.4,226.8 255.9,237.6" fill="none" stroke="#cc80f0" stroke-width="1.3" stroke-linejoin="round" />
<polyline points="38.5,268.0 70.4,256.1 102.0,240.3 133.2,226.6 147.5,223.2" fill="none" stroke="#e9a51c" stroke-width="1.3" stroke-linejoin="round" />
<polyline points="160.0,218.6 162.9,218.6 194.2,219.0 225.4,225.0 255.9,232.6" fill="none" stroke="#e9a51c" stroke-width="1.3" stroke-linejoin="round" />
<rect x="68.6" y="237.3" width="3.5" height="3.5" fill="#222"/>
<rect x="100.2" y="227.3" width="3.5" height="3.5" fill="#222"/>
<rect x="131.4" y="218.1" width="3.5" height="3.5" fill="#222"/>
<rect x="161.1" y="212.2" width="3.5" height="3.5" fill="#222"/>
<rect x="192.4" y="212.2" width="3.5" height="3.5" fill="#222"/>
<rect x="223.6" y="223.2" width="3.5" height="3.5" fill="#222"/>
<rect x="254.1" y="236.7" width="3.5" height="3.5" fill="#222"/>
<polygon points="39.8,253.1 37.4,257.3 42.2,257.3" fill="#1f78e8"/>
<polygon points="70.4,243.2 68.0,247.4 72.8,247.4" fill="#1f78e8"/>
<polygon points="102.0,230.0 99.6,234.2 104.4,234.2" fill="#1f78e8"/>
<polygon points="133.2,219.0 130.8,223.2 135.6,223.2" fill="#1f78e8"/>
<polygon points="162.9,210.6 160.5,214.8 165.3,214.8" fill="#1f78e8"/>
<polygon points="194.2,211.0 191.8,215.2 196.6,215.2" fill="#1f78e8"/>
<polygon points="225.4,221.6 223.0,225.8 227.8,225.8" fill="#1f78e8"/>
<polygon points="255.9,237.0 253.5,241.2 258.3,241.2" fill="#1f78e8"/>
<polygon points="39.8,261.6 42.2,264.0 39.8,266.4 37.4,264.0" fill="#cc80f0"/>
<polygon points="70.4,249.9 72.8,252.3 70.4,254.7 68.0,252.3" fill="#cc80f0"/>
<polygon points="102.0,235.2 104.4,237.6 102.0,240.0 99.6,237.6" fill="#cc80f0"/>
<polygon points="133.2,221.5 135.6,223.9 133.2,226.3 130.8,223.9" fill="#cc80f0"/>
<polygon points="162.9,214.6 165.3,217.0 162.9,219.4 160.5,217.0" fill="#cc80f0"/>
<polygon points="194.2,215.4 196.6,217.8 194.2,220.2 191.8,217.8" fill="#cc80f0"/>
<polygon points="225.4,224.4 227.8,226.8 225.4,229.2 223.0,226.8" fill="#cc80f0"/>
<polygon points="255.9,235.2 258.3,237.6 255.9,240.0 253.5,237.6" fill="#cc80f0"/>
<polygon points="37.4,268.0 41.6,265.6 41.6,270.4" fill="#e9a51c"/>
<polygon points="68.0,256.1 72.2,253.7 72.2,258.5" fill="#e9a51c"/>
<polygon points="99.6,240.3 103.8,237.9 103.8,242.7" fill="#e9a51c"/>
<polygon points="130.8,226.6 135.0,224.2 135.0,229.0" fill="#e9a51c"/>
<polygon points="160.5,218.6 164.7,216.2 164.7,221.0" fill="#e9a51c"/>
<polygon points="191.8,219.0 196.0,216.6 196.0,221.4" fill="#e9a51c"/>
<polygon points="223.0,225.0 227.2,222.6 227.2,227.4" fill="#e9a51c"/>
<polygon points="253.5,232.6 257.7,230.2 257.7,235.0" fill="#e9a51c"/>
<rect x="44.5" y="242" width="9.5" height="33" fill="#fff"/>
<rect x="148.5" y="199" width="9.5" height="34" fill="#fff"/>
<text transform="translate(51.7,258.5) rotate(-90)" font-size="7" font-style="italic" fill="#506070" text-anchor="middle">decrease</text>
<text transform="translate(156,216.5) rotate(-90)" font-size="7" font-style="italic" fill="#506070" text-anchor="middle">decrease</text>
<line x1="42.4" y1="246.5" x2="42.4" y2="270.5" stroke="#000" stroke-width="1.0" />
<polygon points="40.6,269.5 44.2,269.5 42.4,274.5" fill="#000"/>
<line x1="159.8" y1="209.5" x2="159.8" y2="222.0" stroke="#000" stroke-width="1.0" />
<polygon points="158.0,221.0 161.6,221.0 159.8,226.0" fill="#000"/>
<text transform="translate(74.4,265.5) rotate(-24.8) scale(0.92,1)" font-size="9" fill="#262626">1<tspan font-size="6.2" dy="-3.6">st</tspan><tspan dy="3.6"> wake-up stage</tspan></text>
<text transform="translate(213,217.3) rotate(14)" font-size="8.6" font-style="italic" fill="#111">fatigue</text>
<rect x="47.4" y="177.2" width="50.7" height="48.3" fill="#fff" stroke="#666" stroke-width="1"/>
<line x1="48.4" y1="183.1" x2="70.4" y2="183.1" stroke="#525252" stroke-width="1.5" />
<rect x="57.6" y="181.3" width="3.7" height="3.7" fill="#222"/>
<text x="72.4" y="186.7" font-size="10" fill="#262626" text-anchor="start" >298 K</text>
<line x1="48.4" y1="195.2" x2="70.4" y2="195.2" stroke="#1f78e8" stroke-width="1.5" />
<polygon points="59.4,192.7 56.9,197.0 61.9,197.0" fill="#1f78e8"/>
<text x="72.4" y="198.8" font-size="10" fill="#262626" text-anchor="start" >343 K</text>
<line x1="48.4" y1="207.3" x2="70.4" y2="207.3" stroke="#cc80f0" stroke-width="1.5" />
<polygon points="59.4,204.8 61.9,207.3 59.4,209.8 56.9,207.3" fill="#cc80f0"/>
<text x="72.4" y="210.9" font-size="10" fill="#262626" text-anchor="start" >378 K</text>
<line x1="48.4" y1="218.8" x2="70.4" y2="218.8" stroke="#e9a51c" stroke-width="1.5" />
<polygon points="56.9,218.8 61.2,216.3 61.2,221.3" fill="#e9a51c"/>
<text x="72.4" y="222.4" font-size="10" fill="#262626" text-anchor="start" >398 K</text>
<line x1="378.8" y1="23.3" x2="378.8" y2="139.6" stroke="#333333" stroke-width="1" />
<line x1="375.8" y1="23.3" x2="378.8" y2="23.3" stroke="#333333" stroke-width="0.9" />
<text x="376.0" y="26.6" font-size="8.8" fill="#262626" text-anchor="end">10<tspan font-size="6" dx="0.6" dy="-3.8">-1</tspan></text>
<line x1="377.0" y1="36.1" x2="378.8" y2="36.1" stroke="#333333" stroke-width="0.8" />
<line x1="377.0" y1="48.9" x2="378.8" y2="48.9" stroke="#333333" stroke-width="0.8" />
<line x1="375.8" y1="61.7" x2="378.8" y2="61.7" stroke="#333333" stroke-width="0.9" />
<text x="376.0" y="65.0" font-size="8.8" fill="#262626" text-anchor="end">10<tspan font-size="6" dx="0.6" dy="-3.8">-4</tspan></text>
<line x1="377.0" y1="74.5" x2="378.8" y2="74.5" stroke="#333333" stroke-width="0.8" />
<line x1="377.0" y1="87.3" x2="378.8" y2="87.3" stroke="#333333" stroke-width="0.8" />
<line x1="375.8" y1="100.2" x2="378.8" y2="100.2" stroke="#333333" stroke-width="0.9" />
<text x="376.0" y="103.5" font-size="8.8" fill="#262626" text-anchor="end">10<tspan font-size="6" dx="0.6" dy="-3.8">-7</tspan></text>
<line x1="377.0" y1="113.0" x2="378.8" y2="113.0" stroke="#333333" stroke-width="0.8" />
<line x1="377.0" y1="125.8" x2="378.8" y2="125.8" stroke="#333333" stroke-width="0.8" />
<line x1="375.8" y1="138.6" x2="378.8" y2="138.6" stroke="#333333" stroke-width="0.9" />
<text x="376.0" y="141.9" font-size="8.8" fill="#262626" text-anchor="end">10<tspan font-size="6" dx="0.6" dy="-3.8">-10</tspan></text>
<line x1="378.8" y1="139.6" x2="523.0" y2="139.6" stroke="#333333" stroke-width="1" />
<line x1="389.8" y1="139.6" x2="389.8" y2="142.6" stroke="#333333" stroke-width="0.9" />
<text x="389.5" y="149.8" font-size="9.5" fill="#262626" text-anchor="middle" >-3</text>
<line x1="410.2" y1="139.6" x2="410.2" y2="142.6" stroke="#333333" stroke-width="0.9" />
<text x="409.9" y="149.8" font-size="9.5" fill="#262626" text-anchor="middle" >-2</text>
<line x1="430.6" y1="139.6" x2="430.6" y2="142.6" stroke="#333333" stroke-width="0.9" />
<text x="430.3" y="149.8" font-size="9.5" fill="#262626" text-anchor="middle" >-1</text>
<line x1="451.0" y1="139.6" x2="451.0" y2="142.6" stroke="#333333" stroke-width="0.9" />
<text x="451.0" y="149.8" font-size="9.5" fill="#262626" text-anchor="middle" >0</text>
<line x1="471.4" y1="139.6" x2="471.4" y2="142.6" stroke="#333333" stroke-width="0.9" />
<text x="471.4" y="149.8" font-size="9.5" fill="#262626" text-anchor="middle" >1</text>
<line x1="491.8" y1="139.6" x2="491.8" y2="142.6" stroke="#333333" stroke-width="0.9" />
<text x="491.8" y="149.8" font-size="9.5" fill="#262626" text-anchor="middle" >2</text>
<line x1="512.2" y1="139.6" x2="512.2" y2="142.6" stroke="#333333" stroke-width="0.9" />
<text x="512.2" y="149.8" font-size="9.5" fill="#262626" text-anchor="middle" >3</text>
<line x1="379.6" y1="139.6" x2="379.6" y2="141.2" stroke="#333333" stroke-width="0.7" />
<line x1="400.0" y1="139.6" x2="400.0" y2="141.2" stroke="#333333" stroke-width="0.7" />
<line x1="420.4" y1="139.6" x2="420.4" y2="141.2" stroke="#333333" stroke-width="0.7" />
<line x1="440.8" y1="139.6" x2="440.8" y2="141.2" stroke="#333333" stroke-width="0.7" />
<line x1="461.2" y1="139.6" x2="461.2" y2="141.2" stroke="#333333" stroke-width="0.7" />
<line x1="481.6" y1="139.6" x2="481.6" y2="141.2" stroke="#333333" stroke-width="0.7" />
<line x1="502.0" y1="139.6" x2="502.0" y2="141.2" stroke="#333333" stroke-width="0.7" />
<line x1="522.4" y1="139.6" x2="522.4" y2="141.2" stroke="#333333" stroke-width="0.7" />
<text x="450.7" y="166.6" font-size="10.5" fill="#1c1c1c" text-anchor="middle" >Voltage, V</text>
<text transform="translate(351.6,81.7) rotate(-90)" font-size="11" fill="#1c1c1c" text-anchor="middle">Current density, A/cm<tspan font-size="7.3" dy="-4.2">2</tspan></text>
<text x="536.0" y="25.7" font-size="17.5" fill="#111" text-anchor="middle" font-family='"Liberation Serif", serif'>(c)</text>
<path d="M389.80,46.80 C391.00,48.03 394.80,51.90 397.00,54.20 C399.20,56.50 400.90,58.07 403.00,60.60 C405.10,63.13 407.10,66.00 409.60,69.40 C412.10,72.80 415.93,77.90 418.00,81.00 C420.07,84.10 420.83,85.50 422.00,88.00 C423.17,90.50 423.70,93.23 425.00,96.00 C426.30,98.77 428.40,101.17 429.80,104.60 C431.20,108.03 432.50,112.90 433.40,116.60 C434.30,120.30 434.90,125.10 435.20,126.80 C435.50,125.50 436.40,121.10 437.00,119.00 C437.60,116.90 437.80,115.20 438.80,114.20 C439.80,113.20 441.30,113.60 443.00,113.00 C444.70,112.40 447.00,111.00 449.00,110.60 C451.00,110.20 453.20,109.80 455.00,110.60 C456.80,111.40 458.70,113.90 459.80,115.40 C460.90,116.90 461.30,118.90 461.60,119.60 C461.90,118.50 462.85,114.68 463.40,113.00 C463.95,111.32 464.35,110.95 464.90,109.50 C465.45,108.05 465.87,106.37 466.70,104.30 C467.53,102.23 468.92,99.20 469.90,97.10 C470.88,95.00 471.58,93.55 472.60,91.70 C473.62,89.85 474.82,87.87 476.00,86.00 C477.18,84.13 478.35,82.83 479.70,80.50 C481.05,78.17 482.72,74.20 484.10,72.00 C485.48,69.80 486.35,69.30 488.00,67.30 C489.65,65.30 491.93,62.45 494.00,60.00 C496.07,57.55 498.40,54.77 500.40,52.60 C502.40,50.43 504.03,48.80 506.00,47.00 C507.97,45.20 511.17,42.67 512.20,41.80" fill="none" stroke="#5a5a5a" stroke-width="1.45" stroke-linejoin="round"/>
<path d="M389.80,46.40 C391.00,47.63 394.80,51.50 397.00,53.80 C399.20,56.10 400.90,57.67 403.00,60.20 C405.10,62.73 407.10,65.63 409.60,69.00 C412.10,72.37 415.60,76.90 418.00,80.40 C420.40,83.90 422.30,87.00 424.00,90.00 C425.70,93.00 426.83,95.57 428.20,98.40 C429.57,101.23 430.83,103.97 432.20,107.00 C433.57,110.03 435.40,113.80 436.40,116.60 C437.40,119.40 437.90,122.60 438.20,123.80 C438.60,122.70 439.40,118.70 440.60,117.20 C441.80,115.70 443.70,115.50 445.40,114.80 C447.10,114.10 449.90,113.30 450.80,113.00 C451.40,113.70 453.53,114.70 454.40,117.20 C455.27,119.70 455.73,126.20 456.00,128.00 C456.23,126.10 457.02,119.60 457.40,116.60 C457.78,113.60 457.98,111.85 458.30,110.00 C458.62,108.15 458.65,107.50 459.30,105.50 C459.95,103.50 461.12,100.45 462.20,98.00 C463.28,95.55 464.47,93.47 465.80,90.80 C467.13,88.13 468.72,85.02 470.20,82.00 C471.68,78.98 473.13,75.53 474.70,72.70 C476.27,69.87 478.03,67.12 479.60,65.00 C481.17,62.88 482.70,61.37 484.10,60.00 C485.50,58.63 486.68,57.93 488.00,56.80 C489.32,55.67 490.33,54.67 492.00,53.20 C493.67,51.73 496.00,49.70 498.00,48.00 C500.00,46.30 501.63,45.13 504.00,43.00 C506.37,40.87 510.83,36.50 512.20,35.20" fill="none" stroke="#f018f0" stroke-width="1.45" stroke-linejoin="round"/>
<path d="M389.80,39.40 C390.67,40.08 393.20,42.10 395.00,43.50 C396.80,44.90 398.27,45.58 400.60,47.80 C402.93,50.02 407.10,54.77 409.00,56.80 C410.90,58.83 410.90,58.72 412.00,60.00 C413.10,61.28 414.00,62.50 415.60,64.50 C417.20,66.50 419.43,69.42 421.60,72.00 C423.77,74.58 426.53,77.32 428.60,80.00 C430.67,82.68 432.35,85.55 434.00,88.10 C435.65,90.65 437.15,92.90 438.50,95.30 C439.85,97.70 441.12,100.25 442.10,102.50 C443.08,104.75 443.75,106.45 444.40,108.80 C445.05,111.15 445.53,114.50 446.00,116.60 C446.47,118.70 447.00,120.60 447.20,121.40 C447.50,120.20 448.70,115.40 449.00,114.20 C449.30,114.50 450.20,114.60 450.80,116.00 C451.40,117.40 452.30,121.50 452.60,122.60 C452.87,120.50 453.77,112.85 454.20,110.00 C454.63,107.15 454.62,107.50 455.20,105.50 C455.78,103.50 456.68,100.60 457.70,98.00 C458.72,95.40 459.90,92.57 461.30,89.90 C462.70,87.23 464.55,84.87 466.10,82.00 C467.65,79.13 468.95,75.60 470.60,72.70 C472.25,69.80 474.20,66.97 476.00,64.60 C477.80,62.23 479.60,60.22 481.40,58.50 C483.20,56.78 485.03,55.80 486.80,54.30 C488.57,52.80 490.13,51.18 492.00,49.50 C493.87,47.82 496.00,45.88 498.00,44.20 C500.00,42.52 501.63,41.30 504.00,39.40 C506.37,37.50 510.83,33.90 512.20,32.80" fill="none" stroke="#1ccfcf" stroke-width="1.45" stroke-linejoin="round"/>
<path d="M389.80,34.80 C390.83,35.47 393.80,37.43 396.00,38.80 C398.20,40.17 400.83,41.47 403.00,43.00 C405.17,44.53 407.00,46.30 409.00,48.00 C411.00,49.70 413.00,51.28 415.00,53.20 C417.00,55.12 418.50,56.97 421.00,59.50 C423.50,62.03 427.08,64.98 430.00,68.40 C432.92,71.82 436.48,77.02 438.50,80.00 C440.52,82.98 440.97,84.35 442.10,86.30 C443.23,88.25 444.40,89.90 445.30,91.70 C446.20,93.50 446.83,95.15 447.50,97.10 C448.17,99.05 448.75,101.17 449.30,103.40 C449.85,105.63 450.55,109.32 450.80,110.50 C451.00,109.17 451.50,105.63 452.00,102.50 C452.50,99.37 453.22,94.03 453.80,91.70 C454.38,89.37 454.65,90.12 455.50,88.50 C456.35,86.88 457.58,84.78 458.90,82.00 C460.22,79.22 462.05,74.30 463.40,71.80 C464.75,69.30 465.50,68.95 467.00,67.00 C468.50,65.05 470.75,62.00 472.40,60.10 C474.05,58.20 475.32,56.95 476.90,55.60 C478.48,54.25 480.38,53.00 481.90,52.00 C483.42,51.00 484.32,50.80 486.00,49.60 C487.68,48.40 490.00,46.27 492.00,44.80 C494.00,43.33 496.00,42.10 498.00,40.80 C500.00,39.50 501.63,38.53 504.00,37.00 C506.37,35.47 510.83,32.50 512.20,31.60" fill="none" stroke="#2020e6" stroke-width="1.45" stroke-linejoin="round"/>
<rect x="414.0" y="6.3" width="61.7" height="42.6" fill="#fff" stroke="#555" stroke-width="0.9"/>
<line x1="415.0" y1="11.7" x2="432.0" y2="11.7" stroke="#5a5a5a" stroke-width="1.4" />
<text x="434.2" y="14.3" font-size="7.8" fill="#262626">Pristine</text>
<line x1="415.0" y1="22.3" x2="432.0" y2="22.3" stroke="#f018f0" stroke-width="1.4" />
<text x="434.2" y="24.9" font-size="7.8" fill="#262626">After N=10<tspan font-size="5.2" dy="-2.8">5</tspan></text>
<line x1="415.0" y1="33.0" x2="432.0" y2="33.0" stroke="#1ccfcf" stroke-width="1.4" />
<text x="434.2" y="35.6" font-size="7.8" fill="#262626">After N=10<tspan font-size="5.2" dy="-2.8">7</tspan></text>
<line x1="415.0" y1="43.8" x2="432.0" y2="43.8" stroke="#2020e6" stroke-width="1.4" />
<text x="434.2" y="46.4" font-size="7.8" fill="#262626">After N=10<tspan font-size="5.2" dy="-2.8">8</tspan></text>
<line x1="379.0" y1="179.9" x2="379.0" y2="295.3" stroke="#333333" stroke-width="1" />
<line x1="376.0" y1="179.9" x2="379.0" y2="179.9" stroke="#333333" stroke-width="0.9" />
<text x="376.2" y="183.2" font-size="8.8" fill="#262626" text-anchor="end">10<tspan font-size="6" dx="0.6" dy="-3.8">-1</tspan></text>
<line x1="377.2" y1="192.7" x2="379.0" y2="192.7" stroke="#333333" stroke-width="0.8" />
<line x1="377.2" y1="205.5" x2="379.0" y2="205.5" stroke="#333333" stroke-width="0.8" />
<line x1="376.0" y1="218.4" x2="379.0" y2="218.4" stroke="#333333" stroke-width="0.9" />
<text x="376.2" y="221.7" font-size="8.8" fill="#262626" text-anchor="end">10<tspan font-size="6" dx="0.6" dy="-3.8">-4</tspan></text>
<line x1="377.2" y1="231.2" x2="379.0" y2="231.2" stroke="#333333" stroke-width="0.8" />
<line x1="377.2" y1="244.0" x2="379.0" y2="244.0" stroke="#333333" stroke-width="0.8" />
<line x1="376.0" y1="256.8" x2="379.0" y2="256.8" stroke="#333333" stroke-width="0.9" />
<text x="376.2" y="260.1" font-size="8.8" fill="#262626" text-anchor="end">10<tspan font-size="6" dx="0.6" dy="-3.8">-7</tspan></text>
<line x1="377.2" y1="269.6" x2="379.0" y2="269.6" stroke="#333333" stroke-width="0.8" />
<line x1="377.2" y1="282.5" x2="379.0" y2="282.5" stroke="#333333" stroke-width="0.8" />
<line x1="376.0" y1="295.3" x2="379.0" y2="295.3" stroke="#333333" stroke-width="0.9" />
<text x="376.2" y="298.6" font-size="8.8" fill="#262626" text-anchor="end">10<tspan font-size="6" dx="0.6" dy="-3.8">-10</tspan></text>
<line x1="379.0" y1="295.3" x2="523.0" y2="295.3" stroke="#333333" stroke-width="1" />
<line x1="389.8" y1="295.3" x2="389.8" y2="298.3" stroke="#333333" stroke-width="0.9" />
<text x="389.5" y="305.5" font-size="9.5" fill="#262626" text-anchor="middle" >-3</text>
<line x1="410.2" y1="295.3" x2="410.2" y2="298.3" stroke="#333333" stroke-width="0.9" />
<text x="409.9" y="305.5" font-size="9.5" fill="#262626" text-anchor="middle" >-2</text>
<line x1="430.6" y1="295.3" x2="430.6" y2="298.3" stroke="#333333" stroke-width="0.9" />
<text x="430.3" y="305.5" font-size="9.5" fill="#262626" text-anchor="middle" >-1</text>
<line x1="451.0" y1="295.3" x2="451.0" y2="298.3" stroke="#333333" stroke-width="0.9" />
<text x="451.0" y="305.5" font-size="9.5" fill="#262626" text-anchor="middle" >0</text>
<line x1="471.4" y1="295.3" x2="471.4" y2="298.3" stroke="#333333" stroke-width="0.9" />
<text x="471.4" y="305.5" font-size="9.5" fill="#262626" text-anchor="middle" >1</text>
<line x1="491.8" y1="295.3" x2="491.8" y2="298.3" stroke="#333333" stroke-width="0.9" />
<text x="491.8" y="305.5" font-size="9.5" fill="#262626" text-anchor="middle" >2</text>
<line x1="512.2" y1="295.3" x2="512.2" y2="298.3" stroke="#333333" stroke-width="0.9" />
<text x="512.2" y="305.5" font-size="9.5" fill="#262626" text-anchor="middle" >3</text>
<line x1="379.6" y1="295.3" x2="379.6" y2="296.9" stroke="#333333" stroke-width="0.7" />
<line x1="400.0" y1="295.3" x2="400.0" y2="296.9" stroke="#333333" stroke-width="0.7" />
<line x1="420.4" y1="295.3" x2="420.4" y2="296.9" stroke="#333333" stroke-width="0.7" />
<line x1="440.8" y1="295.3" x2="440.8" y2="296.9" stroke="#333333" stroke-width="0.7" />
<line x1="461.2" y1="295.3" x2="461.2" y2="296.9" stroke="#333333" stroke-width="0.7" />
<line x1="481.6" y1="295.3" x2="481.6" y2="296.9" stroke="#333333" stroke-width="0.7" />
<line x1="502.0" y1="295.3" x2="502.0" y2="296.9" stroke="#333333" stroke-width="0.7" />
<line x1="522.4" y1="295.3" x2="522.4" y2="296.9" stroke="#333333" stroke-width="0.7" />
<text x="450.7" y="322.3" font-size="10.5" fill="#1c1c1c" text-anchor="middle" >Voltage, V</text>
<text transform="translate(351.6,237.6) rotate(-90)" font-size="11" fill="#1c1c1c" text-anchor="middle">Current density, A/cm<tspan font-size="7.3" dy="-4.2">2</tspan></text>
<text x="535.1" y="182.3" font-size="17.5" fill="#111" text-anchor="middle" font-family='"Liberation Serif", serif'>(d)</text>
<path d="M389.80,224.40 C390.67,225.60 392.93,228.80 395.00,231.60 C397.07,234.40 399.80,237.90 402.20,241.20 C404.60,244.50 407.43,248.85 409.40,251.40 C411.37,253.95 412.40,254.65 414.00,256.50 C415.60,258.35 417.53,260.55 419.00,262.50 C420.47,264.45 421.97,266.45 422.80,268.20 C423.63,269.95 423.70,268.53 424.00,273.00 C424.30,277.47 424.50,291.33 424.60,295.00 C424.70,292.67 425.10,283.33 425.20,281.00 C425.30,281.00 425.70,281.00 425.80,281.00 C425.97,280.19 426.49,277.41 426.83,276.16 C427.17,274.92 427.68,273.99 427.86,273.55 C428.03,274.13 428.71,276.47 428.88,277.06 C429.06,277.11 429.74,277.33 429.91,277.39 C430.08,275.99 430.60,271.88 430.94,268.98 C431.28,266.09 431.80,261.50 431.97,260.00 C432.14,264.83 432.82,284.17 433.00,289.00 C433.17,286.15 433.85,274.74 434.02,271.89 C434.19,271.83 434.71,271.83 435.05,271.51 C435.39,271.20 435.91,270.25 436.08,270.00 C436.25,270.84 436.76,273.30 437.11,275.05 C437.45,276.81 437.96,279.63 438.13,280.55 C438.31,279.65 438.99,276.05 439.16,275.15 C439.33,275.55 440.02,277.18 440.19,277.59 C440.36,276.36 441.05,271.48 441.22,270.26 C441.39,271.47 441.90,275.73 442.25,277.52 C442.59,279.32 443.10,280.44 443.27,281.02 C443.45,280.16 444.13,276.71 444.30,275.85 C444.47,276.39 444.99,276.93 445.33,279.12 C445.67,281.31 446.19,287.35 446.36,289.00 C446.53,285.66 447.21,272.30 447.39,268.96 C447.56,270.70 448.24,277.64 448.41,279.37 C448.59,278.96 449.10,278.01 449.44,276.87 C449.78,275.72 450.13,273.92 450.47,272.52 C450.81,271.12 451.33,269.14 451.50,268.47 C451.67,269.55 452.35,273.91 452.53,275.00 C452.70,275.02 453.38,275.08 453.55,275.09 C453.72,275.71 454.24,277.77 454.58,278.78 C454.92,279.80 455.44,280.78 455.61,281.18 C455.78,280.77 456.47,279.12 456.64,278.71 C456.81,279.23 457.49,281.30 457.67,281.82 C457.84,280.50 458.52,275.24 458.69,273.92 C458.86,274.94 459.55,279.00 459.72,280.01 C459.89,279.12 460.58,275.56 460.75,274.67 C460.92,275.89 461.61,280.78 461.78,282.00 C461.95,281.86 462.46,283.27 462.80,281.18 C463.15,279.09 463.66,271.42 463.83,269.46 C464.00,269.55 464.52,269.70 464.86,270.00 C465.20,270.30 465.55,269.17 465.89,271.25 C466.23,273.34 466.74,280.61 466.92,282.48 C467.09,281.16 467.77,275.87 467.94,274.54 C468.12,275.02 468.80,276.92 468.97,277.40 C469.14,276.59 469.76,273.92 470.00,272.52 C470.24,271.12 470.07,270.42 470.40,269.00 C470.73,267.58 471.07,266.03 472.00,264.00 C472.93,261.97 474.23,259.93 476.00,256.80 C477.77,253.67 479.97,249.00 482.60,245.20 C485.23,241.40 488.27,238.17 491.80,234.00 C495.33,229.83 500.30,224.00 503.80,220.20 C507.30,216.40 511.30,212.70 512.80,211.20" fill="none" stroke="#5a5a5a" stroke-width="1.45" stroke-linejoin="round"/>
<path d="M389.80,223.80 C390.67,224.90 392.93,228.00 395.00,230.40 C397.07,232.80 399.80,235.40 402.20,238.20 C404.60,241.00 407.00,244.10 409.40,247.20 C411.80,250.30 414.83,254.67 416.60,256.80 C418.37,258.93 418.57,258.60 420.00,260.00 C421.43,261.40 423.73,263.43 425.20,265.20 C426.67,266.97 428.10,268.70 428.80,270.60 C429.50,272.50 429.20,272.53 429.40,276.60 C429.60,280.67 429.90,291.93 430.00,295.00 C430.17,290.17 430.83,270.83 431.00,266.00 C431.17,266.80 431.84,269.99 432.01,270.79 C432.18,270.70 432.85,270.35 433.02,270.26 C433.19,270.85 433.86,273.19 434.03,273.78 C434.20,273.77 434.87,273.77 435.04,273.76 C435.21,274.56 435.88,277.76 436.05,278.56 C436.22,278.01 436.89,275.79 437.06,275.23 C437.23,276.46 437.90,281.37 438.07,282.60 C438.24,281.81 438.91,278.64 439.08,277.85 C439.25,278.18 439.92,279.53 440.09,279.86 C440.26,279.07 440.77,277.14 441.10,275.07 C441.44,273.00 441.94,268.72 442.11,267.45 C442.28,269.19 442.79,275.91 443.12,277.91 C443.46,279.91 443.96,279.21 444.13,279.47 C444.30,279.32 444.98,278.72 445.14,278.57 C445.31,280.39 445.99,287.68 446.15,289.50 C446.32,287.20 446.83,279.26 447.16,275.71 C447.50,272.15 448.01,269.42 448.17,268.17 C448.34,269.72 449.02,275.92 449.18,277.47 C449.35,276.83 449.86,274.97 450.19,273.60 C450.53,272.24 450.87,270.55 451.21,269.27 C451.54,268.00 452.05,266.51 452.22,265.95 C452.38,267.93 452.89,275.49 453.23,277.81 C453.56,280.13 453.90,277.82 454.24,279.85 C454.57,281.88 455.08,288.31 455.25,290.00 C455.41,287.83 455.92,280.15 456.26,277.01 C456.59,273.87 456.93,272.78 457.27,271.16 C457.60,269.53 458.11,267.91 458.28,267.26 C458.45,269.72 459.12,279.54 459.29,282.00 C459.46,281.09 460.13,277.44 460.30,276.53 C460.47,276.79 461.14,277.83 461.31,278.09 C461.48,276.02 462.15,267.73 462.32,265.66 C462.49,267.09 463.16,272.79 463.33,274.22 C463.50,272.79 464.17,267.10 464.34,265.67 C464.51,267.36 465.18,274.09 465.35,275.78 C465.52,274.81 466.19,270.93 466.36,269.96 C466.53,271.34 467.03,276.04 467.37,278.21 C467.71,280.39 468.21,282.20 468.38,283.00 C468.55,281.26 469.22,274.32 469.39,272.58 C469.56,273.81 470.23,278.74 470.40,279.98 C470.40,278.18 470.27,271.60 470.40,269.20 C470.53,266.80 470.60,266.92 471.20,265.60 C471.80,264.28 472.98,262.85 474.00,261.30 C475.02,259.75 476.20,258.10 477.30,256.30 C478.40,254.50 479.43,252.47 480.60,250.50 C481.77,248.53 482.97,246.52 484.30,244.50 C485.63,242.48 486.82,240.72 488.60,238.40 C490.38,236.08 492.27,233.33 495.00,230.60 C497.73,227.87 502.03,224.93 505.00,222.00 C507.97,219.07 511.50,214.50 512.80,213.00" fill="none" stroke="#f018f0" stroke-width="1.45" stroke-linejoin="round"/>
<path d="M389.80,208.20 C390.83,208.92 393.80,210.90 396.00,212.50 C398.20,214.10 400.67,215.78 403.00,217.80 C405.33,219.82 407.83,222.67 410.00,224.60 C412.17,226.53 414.00,227.60 416.00,229.40 C418.00,231.20 420.00,233.20 422.00,235.40 C424.00,237.60 426.00,240.00 428.00,242.60 C430.00,245.20 432.42,248.85 434.00,251.00 C435.58,253.15 436.17,253.75 437.50,255.50 C438.83,257.25 440.75,259.58 442.00,261.50 C443.25,263.42 444.20,265.08 445.00,267.00 C445.80,268.92 446.40,271.00 446.80,273.00 C447.20,275.00 447.30,278.00 447.40,279.00 C447.58,277.50 448.32,271.50 448.50,270.00 C448.67,271.83 449.33,279.17 449.50,281.00 C449.67,278.83 450.33,270.17 450.50,268.00 C450.67,270.50 451.33,280.50 451.50,283.00 C451.67,280.83 452.33,272.17 452.50,270.00 C452.67,271.67 453.33,278.33 453.50,280.00 C453.67,278.67 454.33,273.33 454.50,272.00 C454.65,273.13 455.25,277.67 455.40,278.80 C455.75,277.00 456.73,270.80 457.50,268.00 C458.27,265.20 459.00,264.00 460.00,262.00 C461.00,260.00 462.33,257.95 463.50,256.00 C464.67,254.05 465.72,252.12 467.00,250.30 C468.28,248.48 469.60,246.93 471.20,245.10 C472.80,243.27 474.95,241.15 476.60,239.30 C478.25,237.45 479.53,235.65 481.10,234.00 C482.67,232.35 484.18,231.15 486.00,229.40 C487.82,227.65 488.83,226.43 492.00,223.50 C495.17,220.57 501.53,214.45 505.00,211.80 C508.47,209.15 511.50,208.30 512.80,207.60" fill="none" stroke="#1ccfcf" stroke-width="1.45" stroke-linejoin="round"/>
<path d="M389.80,200.40 C390.83,201.08 393.80,203.00 396.00,204.50 C398.20,206.00 400.47,207.55 403.00,209.40 C405.53,211.25 408.43,213.37 411.20,215.60 C413.97,217.83 416.80,220.30 419.60,222.80 C422.40,225.30 425.60,228.10 428.00,230.60 C430.40,233.10 432.20,235.40 434.00,237.80 C435.80,240.20 437.20,242.50 438.80,245.00 C440.40,247.50 442.40,250.80 443.60,252.80 C444.80,254.80 445.27,255.43 446.00,257.00 C446.73,258.57 447.27,260.33 448.00,262.20 C448.73,264.07 449.80,266.15 450.40,268.20 C451.00,270.25 451.40,273.45 451.60,274.50 C451.77,273.42 452.07,270.28 452.60,268.00 C453.13,265.72 454.25,262.67 454.80,260.80 C455.35,258.93 455.27,258.52 455.90,256.80 C456.53,255.08 457.70,252.22 458.60,250.50 C459.50,248.78 460.40,247.73 461.30,246.50 C462.20,245.27 462.80,244.83 464.00,243.10 C465.20,241.37 467.00,238.17 468.50,236.10 C470.00,234.03 471.67,232.13 473.00,230.70 C474.33,229.27 475.17,228.73 476.50,227.50 C477.83,226.27 478.25,225.72 481.00,223.30 C483.75,220.88 489.00,216.02 493.00,213.00 C497.00,209.98 501.70,207.40 505.00,205.20 C508.30,203.00 511.50,200.70 512.80,199.80" fill="none" stroke="#2020e6" stroke-width="1.45" stroke-linejoin="round"/>
<rect x="419.9" y="177.4" width="61.5" height="42.9" fill="#fff" stroke="#555" stroke-width="0.9"/>
<line x1="420.9" y1="182.4" x2="437.9" y2="182.4" stroke="#5a5a5a" stroke-width="1.4" />
<text x="440.1" y="185.0" font-size="7.8" fill="#262626">Pristine</text>
<line x1="420.9" y1="193.5" x2="437.9" y2="193.5" stroke="#f018f0" stroke-width="1.4" />
<text x="440.1" y="196.1" font-size="7.8" fill="#262626">After N=10<tspan font-size="5.2" dy="-2.8">5</tspan></text>
<line x1="420.9" y1="204.2" x2="437.9" y2="204.2" stroke="#1ccfcf" stroke-width="1.4" />
<text x="440.1" y="206.8" font-size="7.8" fill="#262626">After N=10<tspan font-size="5.2" dy="-2.8">7</tspan></text>
<line x1="420.9" y1="214.6" x2="437.9" y2="214.6" stroke="#2020e6" stroke-width="1.4" />
<text x="440.1" y="217.2" font-size="7.8" fill="#262626">After N=10<tspan font-size="5.2" dy="-2.8">8</tspan></text>
</svg>
</body></html>
